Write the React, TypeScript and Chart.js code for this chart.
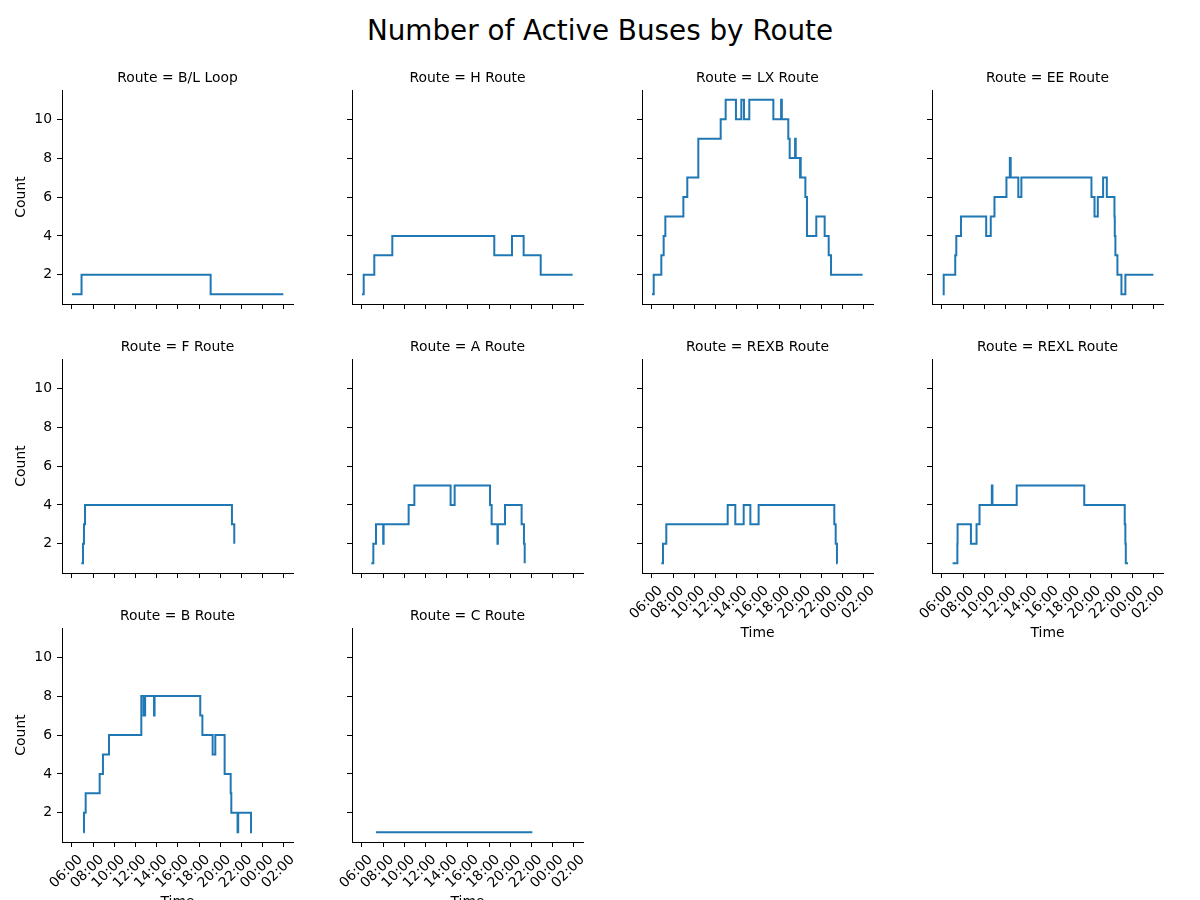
import React, { useEffect, useRef } from "react";
import { Chart, registerables } from "chart.js";

Chart.register(...registerables);

const FONT = '"DejaVu Sans", "Liberation Sans", sans-serif';
const LINE_COLOR = "#1f77b4";

// ---- data (time in hours since midnight, values > 24 are after midnight) ----
const ROUTE_NAMES = [
  "B/L Loop", "H Route", "LX Route", "EE Route",
  "F Route", "A Route", "REXB Route", "REXL Route",
  "B Route", "C Route",
];

const BL_TIMES = [6.0, 6.9, 19.08, 25.94];
const BL_COUNTS = [1, 2, 1, 1];

const H_TIMES = [6.0, 6.16, 7.16, 8.86, 18.48, 20.15, 21.25, 22.86, 25.87];
const H_COUNTS = [1, 2, 3, 4, 3, 4, 3, 2, 2];

const LX_TIMES = [6.0, 6.16, 6.88, 7.1, 7.26, 8.96, 9.33, 10.37, 12.48, 12.95, 13.92, 14.43, 14.68, 15.18, 17.45, 18.18, 18.25, 18.86, 18.99, 19.5, 19.56, 19.97, 20.0, 20.03, 20.06, 20.47, 20.62, 21.5, 22.29, 22.67, 22.89, 25.87];
const LX_COUNTS = [1, 2, 3, 4, 5, 6, 7, 9, 10, 11, 10, 11, 10, 11, 10, 11, 10, 9, 8, 9, 8, 7, 8, 7, 7, 6, 4, 5, 4, 3, 2, 2];

const EE_TIMES = [6.06, 6.16, 7.25, 7.35, 7.79, 10.17, 10.6, 10.95, 12.08, 12.4, 12.48, 13.2, 13.49, 20.1, 20.39, 20.7, 21.2, 21.55, 22.27, 22.3, 22.36, 22.55, 22.93, 23.3, 25.94];
const EE_COUNTS = [1, 2, 3, 4, 5, 4, 5, 6, 7, 8, 7, 6, 7, 6, 5, 6, 7, 6, 5, 4, 3, 2, 1, 2, 2];

const F_TIMES = [6.88, 7.04, 7.13, 7.23, 21.09, 21.31];
const F_COUNTS = [1, 2, 3, 4, 3, 2];

const A_TIMES = [6.88, 7.07, 7.32, 8.0, 8.04, 10.4, 10.94, 14.36, 14.74, 18.08, 18.23, 18.78, 18.82, 19.49, 21.06, 21.28, 21.35];
const A_COUNTS = [1, 2, 3, 2, 3, 4, 5, 4, 5, 4, 3, 2, 3, 4, 3, 2, 1];

const REXB_TIMES = [6.88, 7.04, 7.35, 13.14, 13.86, 14.65, 15.28, 16.06, 23.2, 23.33, 23.45, 23.5];
const REXB_COUNTS = [1, 2, 3, 4, 3, 4, 3, 4, 3, 2, 1, 1];

const REXL_TIMES = [7.0, 7.45, 7.47, 8.73, 9.26, 9.54, 10.7, 10.76, 13.05, 19.42, 23.24, 23.3, 23.34, 23.55];
const REXL_COUNTS = [1, 2, 3, 2, 3, 4, 5, 4, 5, 4, 3, 2, 1, 1];

const B_TIMES = [7.07, 7.13, 7.29, 8.61, 8.92, 9.49, 12.54, 12.75, 12.8, 12.82, 12.9, 13.74, 13.79, 18.1, 18.3, 19.27, 19.52, 20.4, 20.97, 21.03, 21.62, 21.68, 22.89, 22.98];
const B_COUNTS = [1, 2, 3, 4, 5, 6, 8, 7, 8, 7, 8, 7, 8, 7, 6, 5, 6, 4, 3, 2, 1, 2, 1, 1];

const C_TIMES = [7.32, 22.07];
const C_COUNTS = [1, 1];

const SERIES_TIMES = [BL_TIMES, H_TIMES, LX_TIMES, EE_TIMES, F_TIMES, A_TIMES, REXB_TIMES, REXL_TIMES, B_TIMES, C_TIMES];
const SERIES_COUNTS = [BL_COUNTS, H_COUNTS, LX_COUNTS, EE_COUNTS, F_COUNTS, A_COUNTS, REXB_COUNTS, REXL_COUNTS, B_COUNTS, C_COUNTS];

const X_TICK_HOURS = [6, 8, 10, 12, 14, 16, 18, 20, 22, 24, 26];
const Y_TICKS = [2, 4, 6, 8, 10];
const X_MIN = 5.057;
const X_MAX = 26.85;
const Y_MIN = 0.5;
const Y_MAX = 11.5;

// ---- layout ----
const COL_LEFTS = [62, 352, 642, 932];
const ROW_TOPS = [90, 359, 628];
const PLOT_W = 231;
const PLOT_H = 214;
const Y_AXIS_W = 60;
const TITLE_H = 24;
const RIGHT_PAD = 20;

function fmtHour(h: number): string {
  const hh = ((Math.round(h) % 24) + 24) % 24;
  return String(hh).padStart(2, "0") + ":00";
}

// subplot title centred over the plotting area, baseline 8.3px above it
const facetTitlePlugin = {
  id: "facetTitle",
  afterDraw(chart: any, _args: any, opts: any) {
    const { ctx, chartArea } = chart;
    if (!opts || !opts.text) return;
    ctx.save();
    ctx.font = '13.9px ' + FONT;
    ctx.fillStyle = "#000";
    ctx.textAlign = "center";
    ctx.textBaseline = "alphabetic";
    ctx.fillText(opts.text, (chartArea.left + chartArea.right) / 2, chartArea.top - 8.3);
    ctx.restore();
  },
};

type PanelProps = {
  name: string;
  times: number[];
  counts: number[];
  plotLeft: number;
  plotTop: number;
  showX: boolean;
  showY: boolean;
};

function Panel({ name, times, counts, plotLeft, plotTop, showX, showY }: PanelProps) {
  const ref = useRef<HTMLCanvasElement | null>(null);
  const bottomH = showX ? 70 : 10;
  const width = Y_AXIS_W + PLOT_W + RIGHT_PAD;
  const height = TITLE_H + PLOT_H + bottomH;

  useEffect(() => {
    if (!ref.current) return;
    const font = { family: FONT, size: 13.9, weight: "normal" as const, lineHeight: 1.2 };
    const chart = new Chart(ref.current, {
      type: "line",
      data: {
        datasets: [
          {
            data: times.map((t, i) => ({ x: t, y: counts[i] })),
            borderColor: LINE_COLOR,
            backgroundColor: LINE_COLOR,
            borderWidth: 2,
            pointRadius: 0,
            stepped: "before",
            fill: false,
          },
        ],
      },
      plugins: [facetTitlePlugin],
      options: {
        responsive: false,
        animation: false,
        events: [],
        layout: { padding: { top: TITLE_H, left: 0, right: RIGHT_PAD, bottom: 0 } },
        plugins: {
          legend: { display: false },
          tooltip: { enabled: false },
          title: { display: false },
          facetTitle: { text: "Route = " + name },
        },
        scales: {
          x: {
            type: "linear",
            position: "bottom",
            min: X_MIN,
            max: X_MAX,
            afterBuildTicks: (ax: any) => {
              ax.ticks = X_TICK_HOURS.map((v) => ({ value: v }));
            },
            afterFit: (ax: any) => {
              ax.height = bottomH;
              ax.paddingLeft = 0;
              ax.paddingRight = 0;
            },
            grid: {
              display: true,
              drawOnChartArea: false,
              drawTicks: true,
              tickLength: 5,
              color: "#000",
              lineWidth: 1,
            },
            border: { display: true, color: "#000", width: 1 },
            ticks: {
              display: showX,
              autoSkip: false,
              minRotation: 45,
              maxRotation: 45,
              padding: 4.5,
              labelOffset: 8.4,
              color: "#000",
              font,
              callback: (v: any) => fmtHour(Number(v)),
            },
            title: {
              display: showX,
              text: "Time",
              color: "#000",
              font,
              padding: { top: 0, bottom: 1.66 },
            },
          },
          y: {
            type: "linear",
            position: "left",
            min: Y_MIN,
            max: Y_MAX,
            afterBuildTicks: (ax: any) => {
              ax.ticks = Y_TICKS.map((v) => ({ value: v }));
            },
            afterFit: (ax: any) => {
              ax.width = Y_AXIS_W;
              ax.paddingTop = 0;
              ax.paddingBottom = 0;
            },
            grid: {
              display: true,
              drawOnChartArea: false,
              drawTicks: true,
              tickLength: 5,
              color: "#000",
              lineWidth: 1,
            },
            border: { display: true, color: "#000", width: 1 },
            ticks: {
              display: showY,
              padding: 5,
              color: "#000",
              font,
              callback: (v: any) => String(v),
            },
            title: {
              display: showY,
              text: "Count",
              color: "#000",
              font,
              padding: { top: 10.7, bottom: 0 },
            },
          },
        },
      },
    } as any);
    return () => chart.destroy();
  }, []);

  return (
    <canvas
      ref={ref}
      width={width}
      height={height}
      style={{
        position: "absolute",
        left: plotLeft - Y_AXIS_W,
        top: plotTop - TITLE_H,
        width,
        height,
      }}
    />
  );
}

export default function App() {
  const labeledX = new Set([6, 7, 8, 9]);
  return (
    <div
      style={{
        position: "fixed",
        left: 0,
        top: 0,
        width: 1200,
        height: 900,
        overflow: "hidden",
        background: "#fff",
      }}
    >
      <div
        style={{
          position: "absolute",
          left: 0,
          top: 16.5,
          width: 1200,
          textAlign: "center",
          fontFamily: FONT,
          fontSize: 27.8,
          lineHeight: "27.8px",
          color: "#000",
          whiteSpace: "nowrap",
        }}
      >
        Number of Active Buses by Route
      </div>
      {ROUTE_NAMES.map((name, i) => {
        const col = i % 4;
        const row = Math.floor(i / 4);
        return (
          <Panel
            key={name}
            name={name}
            times={SERIES_TIMES[i]}
            counts={SERIES_COUNTS[i]}
            plotLeft={COL_LEFTS[col]}
            plotTop={ROW_TOPS[row]}
            showX={labeledX.has(i)}
            showY={col === 0}
          />
        );
      })}
    </div>
  );
}
